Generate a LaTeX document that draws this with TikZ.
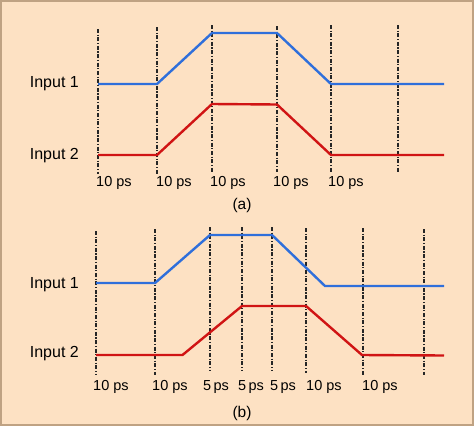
\documentclass[tikz,border=0pt]{standalone}
\usepackage{fontspec}
\setmainfont{Liberation Sans}
\definecolor{bg}{HTML}{FDE1C3}
\definecolor{frame}{HTML}{BFA283}
\definecolor{wblue}{HTML}{2F6FDB}
\definecolor{wred}{HTML}{D01414}
\begin{document}
\begin{tikzpicture}[x=1pt,y=-1pt,
  grid/.style={black!85, line width=1.1pt, dash pattern=on 4pt off 1.6pt on 1.2pt off 1.6pt},
  wave1/.style={wblue, line width=2.4pt, line join=miter},
  wave2/.style={wred, line width=2.4pt, line join=miter},
  inlabel/.style={anchor=east, inner sep=0pt, font=\fontsize{16}{17}\selectfont},
  tlabel/.style={anchor=west, inner sep=0pt, font=\fontsize{14.5}{15}\selectfont},
  caplabel/.style={inner sep=0pt, font=\fontsize{15.5}{16}\selectfont}]
\fill[bg] (0,0) rectangle (474,426);
\draw[frame, line width=2pt] (1,1) rectangle (473,425);
\useasboundingbox (0,0) rectangle (474,426);
% ---------- panel (a)
\foreach \x/\t/\b in {98/29/174, 157/27/174, 212/25/172, 277/26/172, 331/25/172, 398/25/172}
  \draw[grid] (\x,\t) -- (\x,\b);
\draw[wave1] (98,84) -- (157,84) -- (212,33) -- (277,33) -- (331,84) -- (444,84);
\draw[wave2] (98,155) -- (157,155) -- (212,104) -- (277,104.5) -- (331,155) -- (444,155);
\node[inlabel] (a1) at (79,84) {Input 1};
\node[inlabel] (a2) at (79,156) {Input 2};
\node[tlabel] (ta1) at (96,183) {10 ps};
\node[tlabel] (ta2) at (156,183) {10 ps};
\node[tlabel] (ta3) at (210,183) {10 ps};
\node[tlabel] (ta4) at (273,183) {10 ps};
\node[tlabel] (ta5) at (328,183) {10 ps};
\node[caplabel] (capa) at (242,205) {(a)};
% ---------- panel (b)
\foreach \x/\t/\b in {96/231/375, 155/229/375, 210/227/371, 242/227/371, 272/227/371, 306/228/373, 363/228/375, 424/229/375}
  \draw[grid] (\x,\t) -- (\x,\b);
\draw[wave1] (96,283) -- (155,283) -- (210,235) -- (272,235) -- (325,286) -- (444,286);
\draw[wave2] (96,355) -- (182.5,355) -- (242,306) -- (306,306) -- (362,355) -- (444,355.5);
\node[inlabel] (b1) at (79,285) {Input 1};
\node[inlabel] (b2) at (79,354) {Input 2};
\node[tlabel] (tb1) at (93,387) {10 ps};
\node[tlabel] (tb2) at (152,387) {10 ps};
\node[tlabel] (tb3) at (203,387) {5\,ps};
\node[tlabel] (tb4) at (238,387) {5\,ps};
\node[tlabel] (tb5) at (270,387) {5\,ps};
\node[tlabel] (tb6) at (306,387) {10 ps};
\node[tlabel] (tb7) at (362,387) {10 ps};
\node[caplabel] (capb) at (242,413) {(b)};
\end{tikzpicture}
\end{document}
